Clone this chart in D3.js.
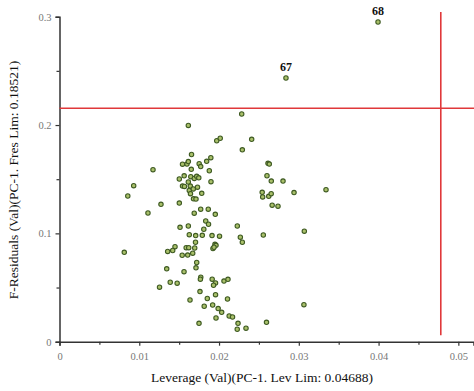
<!DOCTYPE html>
<html>
<head>
<meta charset="utf-8">
<script src="https://cdn.jsdelivr.net/npm/d3@7"></script>
<style>
  body { margin: 0; background: #fff; }
  svg { display: block; font-family: "Liberation Serif", "DejaVu Serif", serif; }
</style>
</head>
<body>
<div id="chart"></div>
<script>
// leverage / F-residual of each validation sample (first two are the labelled ones)
const leverage = [
  0.03993, 0.02839, 0.02284, 0.01615, 0.01971, 0.02015, 0.02409, 0.02292, 0.01655,
  0.01172, 0.00930, 0.00856, 0.01272, 0.01109, 0.01502,
  0.01542, 0.01598, 0.01615, 0.01652, 0.01751, 0.01770, 0.01845, 0.01897, 0.01878, 0.01899,
  0.01502, 0.01563, 0.01646, 0.01690, 0.01720, 0.01746, 0.01615, 0.01542, 0.01567, 0.01640,
  0.01730, 0.01627, 0.01677, 0.01783, 0.01642, 0.01680, 0.01711, 0.01770, 0.01865, 0.01689, 0.01953,
  0.02614, 0.02630, 0.02601, 0.02655, 0.02802, 0.02541, 0.02547, 0.02623, 0.02654, 0.02940,
  0.03341, 0.02666, 0.02739, 0.03069, 0.02555, 0.03064, 0.02595, 0.02229,
  0.01833, 0.01868, 0.01809, 0.01511, 0.01615, 0.01627, 0.01707, 0.01790, 0.01912, 0.02006,
  0.02267, 0.02292, 0.01705, 0.01949, 0.01962, 0.01924, 0.01937, 0.01588, 0.01620, 0.01695,
  0.01448, 0.01419, 0.01356, 0.01538, 0.01607, 0.01670, 0.00812, 0.01720, 0.01711, 0.01344,
  0.01561, 0.01771, 0.01766, 0.01914, 0.01956, 0.01931, 0.02062, 0.02112, 0.01388, 0.01475,
  0.01254, 0.01761, 0.01956, 0.01636, 0.01853, 0.02106, 0.01814, 0.01920, 0.01989, 0.02033,
  0.01962, 0.02127, 0.02169, 0.01749, 0.02238, 0.02228, 0.02338
];
const fres = [
  0.2951, 0.2434, 0.2102, 0.1996, 0.1855, 0.1878, 0.1868, 0.1771, 0.1728,
  0.1588, 0.1440, 0.1345, 0.1268, 0.1188, 0.1280,
  0.1639, 0.1640, 0.1663, 0.1591, 0.1643, 0.1617, 0.1665, 0.1699, 0.1578, 0.1477,
  0.1502, 0.1531, 0.1523, 0.1507, 0.1527, 0.1513, 0.1474, 0.1437, 0.1433, 0.1437,
  0.1426, 0.1396, 0.1410, 0.1370, 0.1366, 0.1319, 0.1317, 0.1223, 0.1223, 0.1186, 0.1176,
  0.1647, 0.1640, 0.1532, 0.1483, 0.1483, 0.1379, 0.1336, 0.1342, 0.1366, 0.1377,
  0.1403, 0.1260, 0.1251, 0.1020, 0.0985, 0.0342, 0.0179, 0.1068,
  0.1114, 0.1084, 0.1038, 0.1056, 0.1068, 0.0988, 0.0980, 0.0982, 0.0980, 0.0974,
  0.0965, 0.0918, 0.0918, 0.0899, 0.0890, 0.0860, 0.0872, 0.0868, 0.0868, 0.0865,
  0.0877, 0.0842, 0.0833, 0.0798, 0.0800, 0.0817, 0.0825, 0.0731, 0.0682, 0.0673,
  0.0646, 0.0595, 0.0577, 0.0577, 0.0542, 0.0521, 0.0560, 0.0576, 0.0549, 0.0540,
  0.0503, 0.0463, 0.0434, 0.0385, 0.0399, 0.0394, 0.0327, 0.0339, 0.0306, 0.0271,
  0.0219, 0.0237, 0.0228, 0.0170, 0.0170, 0.0115, 0.0125
];
const pointLabels = ["68", "67"];

const xTicks = [0, 0.01, 0.02, 0.03, 0.04, 0.05];
const xMinor = [0.005, 0.015, 0.025, 0.035, 0.045];
const yTicks = [0, 0.1, 0.2, 0.3];
const yMinor = [0.05, 0.15, 0.25];

// limit lines as drawn
const fresLimit = 0.2155;
const levLimit = 0.0478;
const levLineSpan = [0.006, 0.3043];

const width = 474, height = 391;
const x = d3.scaleLinear().domain([0, 0.0519]).range([59.5, 473.5]);
const y = d3.scaleLinear().domain([0, 0.3]).range([341.7, 16.7]);

const svg = d3.select("#chart").append("svg")
  .attr("width", width).attr("height", height);

const axisColor = "#333";
const tickColor = "#777";

// x axis
const gx = svg.append("g").attr("transform", `translate(0,${y(0)})`);
gx.call(d3.axisBottom(x).tickValues(xTicks).tickSize(4).tickPadding(7)
  .tickFormat(d => d === 0 ? "0" : d3.format(".2f")(d)));
gx.append("g").call(d3.axisBottom(x).tickValues(xMinor).tickSize(3).tickFormat(""))
  .select(".domain").remove();

// y axis
const gy = svg.append("g").attr("transform", `translate(${x(0)},0)`);
gy.call(d3.axisLeft(y).tickValues(yTicks).tickSize(4).tickPadding(4)
  .tickFormat(d => d === 0 ? "0" : d3.format(".1f")(d)));
gy.append("g").call(d3.axisLeft(y).tickValues(yMinor).tickSize(3).tickFormat(""))
  .select(".domain").remove();

svg.selectAll(".domain").attr("stroke", axisColor).attr("stroke-width", 1.5);
svg.selectAll(".tick line").attr("stroke", axisColor).attr("stroke-width", 1.2);
svg.selectAll(".tick text")
  .attr("fill", tickColor)
  .style("font-family", "'Liberation Serif', serif")
  .style("font-size", "10.5px");

// limit lines
svg.append("line")
  .attr("x1", x(0)).attr("x2", width)
  .attr("y1", y(fresLimit)).attr("y2", y(fresLimit))
  .attr("stroke", "#e0383a").attr("stroke-width", 1.6);
svg.append("line")
  .attr("x1", x(levLimit)).attr("x2", x(levLimit))
  .attr("y1", y(levLineSpan[1])).attr("y2", y(levLineSpan[0]))
  .attr("stroke", "#e0383a").attr("stroke-width", 1.6);

// points
svg.append("g").selectAll("circle")
  .data(leverage.map((v, i) => [v, fres[i]]))
  .join("circle")
  .attr("cx", d => x(d[0]))
  .attr("cy", d => y(d[1]))
  .attr("r", 2.2)
  .attr("fill", "#a9c06a")
  .attr("stroke", "#3e5a22")
  .attr("stroke-width", 1.1);

// labelled samples
svg.append("g").selectAll("text")
  .data(pointLabels)
  .join("text")
  .attr("x", (d, i) => x(leverage[i]))
  .attr("y", (d, i) => y(fres[i]) - 7)
  .attr("text-anchor", "middle")
  .attr("font-size", 12)
  .attr("font-weight", "bold")
  .attr("fill", "#111")
  .text(d => d);

// axis titles
svg.append("text")
  .attr("x", 262).attr("y", 382)
  .attr("text-anchor", "middle")
  .attr("font-size", 13.5)
  .attr("fill", "#111")
  .text("Leverage (Val)(PC-1. Lev Lim: 0.04688)");

svg.append("text")
  .attr("transform", "translate(18,180) rotate(-90)")
  .attr("text-anchor", "middle")
  .attr("font-size", 13.5)
  .attr("fill", "#111")
  .text("F-Residuals (Val)(PC-1. Fres Lim: 0.18521)");
</script>
</body>
</html>
